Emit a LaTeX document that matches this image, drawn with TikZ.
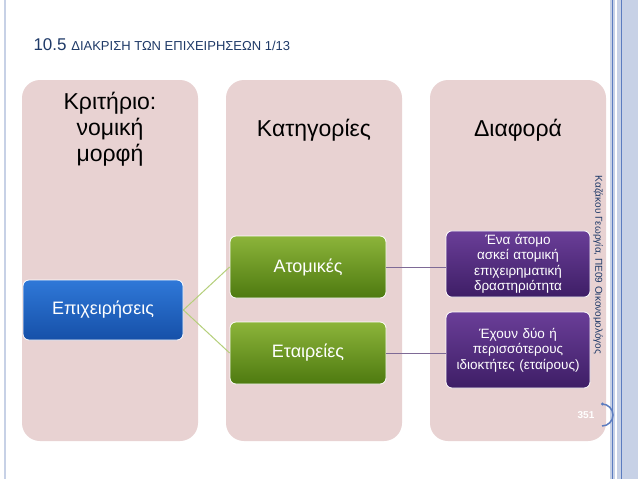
\documentclass[tikz,border=0pt]{standalone}
\usepackage{fontspec}
\setmainfont{Liberation Sans}
\begin{document}
\begin{tikzpicture}[x=1pt,y=-1pt,
  col/.style={fill=colpink,draw=none,rounded corners=18pt},
  hdr/.style={font=\fontsize{23}{26}\selectfont,align=center,text=black},
  bluebox/.style={draw=white,line width=0.8pt,rounded corners=6pt,top color=blueT,bottom color=blueB,text=white,font=\fontsize{18}{20}\selectfont,minimum width=160pt,minimum height=60pt},
  greenbox/.style={draw=white,line width=0.8pt,rounded corners=6pt,top color=greenT,bottom color=greenB,text=white,font=\fontsize{18}{20}\selectfont,minimum width=156pt,minimum height=62pt},
  purpbox/.style={draw=white,line width=0.8pt,rounded corners=6pt,top color=purpT,bottom color=purpB,text=white,font=\fontsize{13.5}{15.5}\selectfont,align=center,minimum width=144pt,text width=136pt},
  gline/.style={draw=greenL,line width=1pt},
  pline/.style={draw=purpL,line width=1pt}]
\definecolor{colpink}{HTML}{E8D2D2}
\definecolor{blueT}{HTML}{2F78D8}
\definecolor{blueB}{HTML}{1650A8}
\definecolor{greenT}{HTML}{8CB43A}
\definecolor{greenB}{HTML}{4E7A10}
\definecolor{purpT}{HTML}{6A3E98}
\definecolor{purpB}{HTML}{3E1E66}
\definecolor{greenL}{HTML}{B5CF7A}
\definecolor{purpL}{HTML}{7E6A96}
\definecolor{band}{HTML}{C7D1E6}
\definecolor{bandline}{HTML}{5B7CC0}
\definecolor{titleblue}{HTML}{1F3A68}
\useasboundingbox (0,0) rectangle (638,479);
\fill[white] (0,0) rectangle (638,479);
\fill[band] (610,0) rectangle (638,479);
\draw[bandline,line width=0.8pt] (612,0) -- (612,479);
\draw[bandline,line width=0.8pt] (621,0) -- (621,479);
\draw[white,line width=1.5pt] (616,0) -- (616,479);
\draw[band,line width=2pt] (5,0) -- (5,479);
\node[anchor=west,text=titleblue] (title) at (30,45) {\fontsize{17}{20}\selectfont 10.5 \fontsize{13}{15}\selectfont ΔΙΑΚΡΙΣΗ ΤΩΝ ΕΠΙΧΕΙΡΗΣΕΩΝ 1/13};
\fill[col] (22,80) rectangle (198,441);
\fill[col] (226,80) rectangle (402,441);
\fill[col] (430,80) rectangle (606,441);
\node[hdr] (h1) at (110,129) {Κριτήριο:\\νομική\\μορφή};
\node[hdr] (h2) at (314,130) {Κατηγορίες};
\node[hdr] (h3) at (518,130) {Διαφορά};
\node[bluebox] (e) at (103,310) {Επιχειρήσεις};
\node[greenbox] (a) at (308,267) {Ατομικές};
\node[greenbox] (t) at (308,353) {Εταιρείες};
\node[purpbox,minimum height=64pt] (p1) at (518,264) {Ένα άτομο ασκεί ατομική επιχειρηματική δραστηριότητα};
\node[purpbox,minimum height=76pt] (p2) at (518,350) {Έχουν δύο ή περισσότερους ιδιοκτήτες (εταίρους)};
\draw[gline] (e.east) -- (a.west);
\draw[gline] (e.east) -- (t.west);
\draw[pline] (a.east) -- (p1.west |- a.east);
\draw[pline] (t.east) -- (p2.west |- t.east);
\node[rotate=-90,text=titleblue,font=\fontsize{10}{12}\selectfont] (side) at (598,265) {Καζάκου Γεωργία, ΠΕ09 Οικονομολόγος};
\draw[bandline,line width=1.5pt] (603,405) arc (-90:90:-1) ;
\draw[bandline,line width=1.5pt] (602,404) arc (-90:90:11);
\node[text=white,font=\bfseries\fontsize{10}{12}\selectfont] (pg) at (586,415) {351};
\end{tikzpicture}
\end{document}
